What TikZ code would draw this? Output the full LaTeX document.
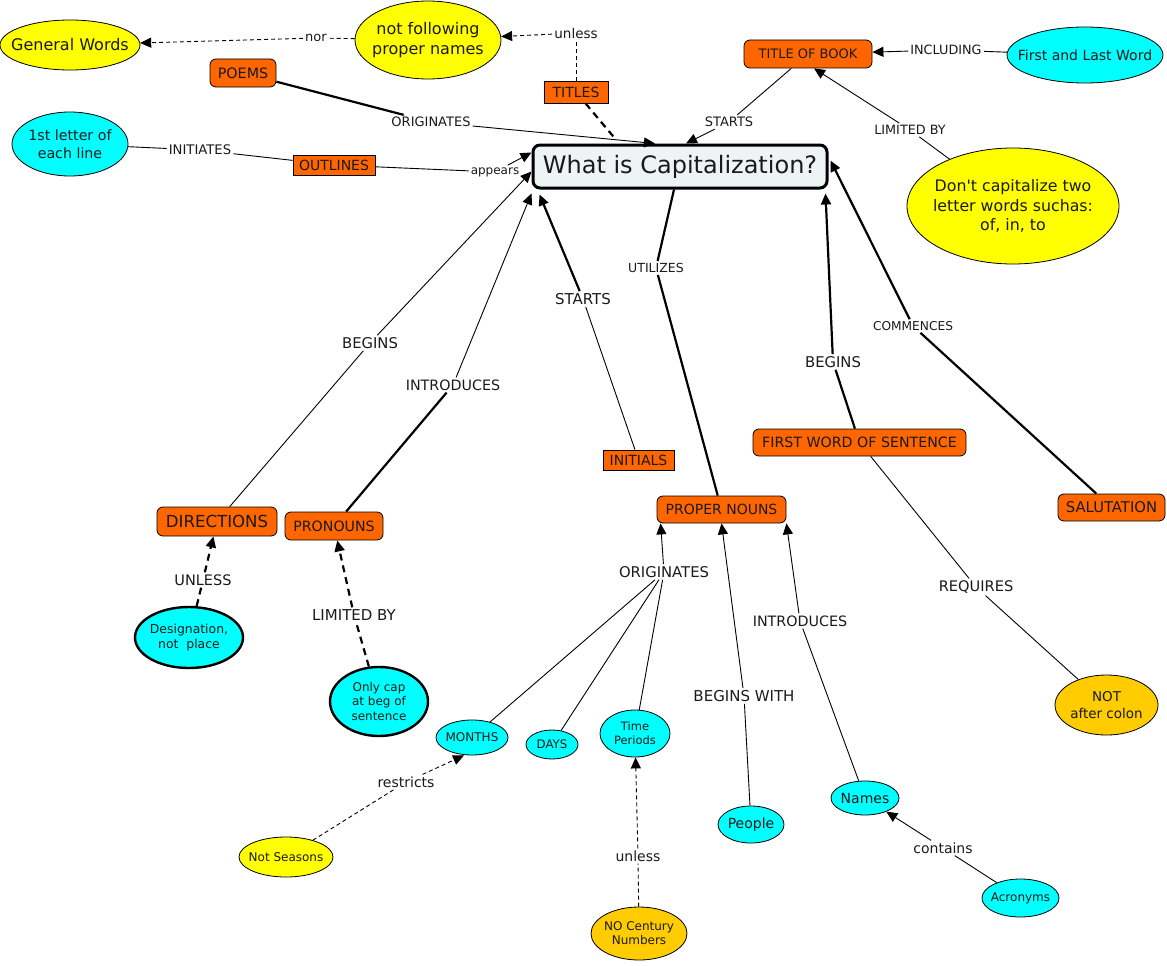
\documentclass[tikz,border=0pt]{standalone}
\usepackage{fontspec}
\setmainfont{DejaVu Sans}
\usetikzlibrary{shapes.geometric,arrows.meta,calc}
\definecolor{orng}{HTML}{FF6600}
\definecolor{cyn}{HTML}{00FFFF}
\definecolor{yel}{HTML}{FFFF00}
\definecolor{gld}{HTML}{FFCC00}
\definecolor{mainfill}{HTML}{EEF3F6}
\definecolor{txt}{HTML}{1A1A1A}
\newcommand{\fsz}[2]{\fontsize{#1pt}{#2pt}\selectfont}
\tikzset{
  base/.style={draw=black, line width=0.8pt, inner sep=0pt, text=txt, align=center},
  orbox/.style={base, fill=orng, rounded corners=6pt},
  orsq/.style={base, fill=orng},
  ellbase/.style={base, ellipse, inner xsep=-30pt, inner ysep=-30pt},
  cyell/.style={ellbase, fill=cyn},
  yell/.style={ellbase, fill=yel},
  gell/.style={ellbase, fill=gld},
  bord/.style={line width=2.4pt},
  mainbox/.style={draw=black, line width=3pt, fill=mainfill, rounded corners=7pt, inner sep=0pt, text=txt},
  lbl/.style={inner sep=2pt, text=txt},
  lnthin/.style={line width=0.9pt},
  lnthick/.style={line width=2.2pt},
  dsh/.style={line width=0.9pt, dash pattern=on 4pt off 3pt},
  dshthick/.style={line width=2.2pt, dash pattern=on 7pt off 5pt},
  arw/.style={-{Triangle[length=11pt,width=10pt]}}
}
\begin{document}
\begin{tikzpicture}[x=1pt,y=-1pt]
\path[use as bounding box] (0,0) rectangle (1167,966);
% concepts
\node[yell, minimum width=140, minimum height=50, font=\fsz{16}{19}] (gw) at (70,45) {General Words};
\node[yell, minimum width=146, minimum height=78, font=\fsz{16}{20}] (nfp) at (428,40) {not following\\proper names};
\node[orbox, minimum width=66, minimum height=28, font=\fsz{14.3}{16}] (poems) at (243,73) {POEMS};
\node[orsq, minimum width=64, minimum height=22, font=\fsz{14}{16}] (titles) at (576,92) {TITLES};
\node[orbox, minimum width=128, minimum height=28, font=\fsz{13}{16}] (tob) at (808,54) {TITLE OF BOOK};
\node[cyell, minimum width=156, minimum height=56, font=\fsz{14}{16}] (flw) at (1085,55) {First and Last Word};
\node[cyell, minimum width=116, minimum height=64, font=\fsz{14.2}{18}] (fle) at (70,144) {1st letter of\\each line};
\node[orsq, minimum width=82, minimum height=20, font=\fsz{14}{16}] (outl) at (334,165) {OUTLINES};
\node[mainbox, minimum width=294, minimum height=43, font=\fsz{24}{28}] (main) at (680,166.5) {What is Capitalization?};
\node[yell, minimum width=212, minimum height=116, font=\fsz{15.8}{19.5}] (dont) at (1013,206) {Don\textquotesingle t capitalize two\\letter words suchas:\\of, in, to};
\node[orbox, minimum width=120, minimum height=29, font=\fsz{16.6}{18}] (dir) at (217,521.5) {DIRECTIONS};
\node[orbox, minimum width=98, minimum height=28, font=\fsz{14.2}{16}] (pron) at (334,526) {PRONOUNS};
\node[orsq, minimum width=71, minimum height=20, font=\fsz{14}{16}] (init) at (638.5,460) {INITIALS};
\node[orbox, minimum width=129, minimum height=27, font=\fsz{14}{16}] (pn) at (721.5,509.5) {PROPER NOUNS};
\node[orbox, minimum width=213, minimum height=27, font=\fsz{14.2}{16}] (fws) at (859.5,442.5) {FIRST WORD OF SENTENCE};
\node[orbox, minimum width=107, minimum height=27, font=\fsz{14.8}{16}] (sal) at (1111.5,507.5) {SALUTATION};
\node[cyell, bord, minimum width=108, minimum height=61, font=\fsz{12.4}{15}] (desig) at (189,637.5) {Designation,\\not\ \ place};
\node[cyell, bord, minimum width=98, minimum height=69, font=\fsz{12}{14.5}] (only) at (379,701.5) {Only cap\\at beg of\\sentence};
\node[cyell, minimum width=72, minimum height=35, font=\fsz{12}{13}] (months) at (472,737.5) {MONTHS};
\node[cyell, minimum width=52, minimum height=29, font=\fsz{11.8}{13}] (days) at (552,744.5) {DAYS};
\node[cyell, minimum width=70, minimum height=47, font=\fsz{11.5}{14}] (tp) at (635,733.5) {Time\\Periods};
\node[cyell, minimum width=66, minimum height=37, font=\fsz{14}{16}] (people) at (751,824.5) {People};
\node[cyell, minimum width=68, minimum height=34, font=\fsz{14}{16}] (names) at (865,798) {Names};
\node[cyell, minimum width=77, minimum height=38, font=\fsz{12}{13}] (acr) at (1020.5,898) {Acronyms};
\node[yell, minimum width=94, minimum height=40, font=\fsz{12}{13}] (ns) at (286,857) {Not Seasons};
\node[gell, minimum width=96, minimum height=53, font=\fsz{12}{14}] (ncn) at (639,933.5) {NO Century\\Numbers};
\node[gell, minimum width=103, minimum height=60, font=\fsz{13.5}{17}] (nac) at (1106.5,705) {NOT\\after colon};
% linking phrases
\node[lbl, font=\fsz{13}{15}] (lnor) at (316,38) {nor};
\node[lbl, font=\fsz{13.5}{15}] (lunlessa) at (576,33) {unless};
\node[lbl, font=\fsz{12.8}{14}] (lincl) at (946,50) {INCLUDING};
\node[lbl, font=\fsz{13}{14}] (lorigA) at (431,122) {ORIGINATES};
\node[lbl, font=\fsz{13}{14}] (lstartsA) at (729,122) {STARTS};
\node[lbl, font=\fsz{12.8}{14}] (llimA) at (910,130) {LIMITED BY};
\node[lbl, font=\fsz{13.2}{14}] (linit) at (200,150) {INITIATES};
\node[lbl, font=\fsz{12}{14}] (lapp) at (495,172) {appears};
\node[lbl, font=\fsz{14.8}{16}] (lbeginsA) at (370,343) {BEGINS};
\node[lbl, font=\fsz{14.3}{16}] (lintroA) at (453,385) {INTRODUCES};
\node[lbl, font=\fsz{15}{16}] (lstartsB) at (583,299) {STARTS};
\node[lbl, font=\fsz{12.5}{14}] (lutil) at (656,268) {UTILIZES};
\node[lbl, font=\fsz{12.2}{14}] (lcomm) at (913,326) {COMMENCES};
\node[lbl, font=\fsz{14.8}{16}] (lbeginsB) at (833,362) {BEGINS};
\node[lbl, font=\fsz{14.5}{16}] (lunlessb) at (203,580) {UNLESS};
\node[lbl, font=\fsz{15}{16}] (llimB) at (354,615) {LIMITED BY};
\node[lbl, font=\fsz{14.8}{16}] (lorigB) at (664,572) {ORIGINATES};
\node[lbl, font=\fsz{14.3}{16}] (lintroB) at (800,621) {INTRODUCES};
\node[lbl, font=\fsz{15}{16}] (lbw) at (744,696) {BEGINS WITH};
\node[lbl, font=\fsz{14.6}{16}] (lreq) at (976,587) {REQUIRES};
\node[lbl, font=\fsz{14}{16}] (lrestr) at (406,782) {restricts};
\node[lbl, font=\fsz{14}{16}] (lunlessc) at (638,856) {unless};
\node[lbl, font=\fsz{14}{16}] (lcont) at (943,848) {contains};
% anchor points on the main concept
\coordinate (mOrig) at ($(main.north)+(-25,0)$);
\coordinate (mStartsA) at ($(main.north)+(6,0)$);
\coordinate (mTitles) at ($(main.north)+(-65,-5)$);
\coordinate (mApp) at ($(main.west)+(0,-14)$);
\coordinate (mBeginsA) at ($(main.west)+(0,5)$);
\coordinate (mIntro) at ($(main.south west)+(0,4)$);
\coordinate (mStartsB) at ($(main.south west)+(8,5)$);
\coordinate (mUtil) at ($(main.south)+(-6,0)$);
\coordinate (mBeginsB) at ($(main.south east)+(-3,4)$);
\coordinate (mComm) at ($(main.east)+(2,-6)$);
\coordinate (tobLim) at ($(tob.south)+(6,0)$);
\coordinate (pnOrig) at ($(pn.south west)+(4,0)$);
\coordinate (monRes) at ($(months.south)+(-8,0)$);
% connectors
\draw[dsh] (nfp) -- (lnor);
\draw[dsh, arw] (lnor) -- (gw);
\draw[dsh] (titles) -- (lunlessa);
\draw[dsh, arw] (lunlessa) -- (nfp);
\draw[dshthick] (titles) -- (mTitles);
\draw[lnthick] (poems) -- (lorigA);
\draw[lnthin, arw] (lorigA) -- (mOrig);
\draw[lnthin] (tob) -- (lstartsA);
\draw[lnthin, arw] (lstartsA) -- (mStartsA);
\draw[lnthin] (flw) -- (lincl);
\draw[lnthin, arw] (lincl) -- (tob);
\draw[lnthin] (dont) -- (llimA);
\draw[lnthin, arw] (llimA) -- (tobLim);
\draw[lnthin] (fle) -- (linit);
\draw[lnthin] (linit) -- (outl);
\draw[lnthin] (outl) -- (lapp);
\draw[lnthin, arw] (lapp) -- (mApp);
\draw[lnthin] (dir) -- (lbeginsA);
\draw[lnthin, arw] (lbeginsA) -- (mBeginsA);
\draw[lnthick] (pron) -- (lintroA);
\draw[lnthin, arw] (lintroA) -- (mIntro);
\draw[lnthin] (init) -- (lstartsB);
\draw[lnthick, arw] (lstartsB) -- (mStartsB);
\draw[lnthick] (mUtil) -- (lutil);
\draw[lnthick] (lutil) -- (pn);
\draw[lnthick] (fws) -- (lbeginsB);
\draw[lnthick, arw] (lbeginsB) -- (mBeginsB);
\draw[lnthick] (sal) -- (lcomm);
\draw[lnthick, arw] (lcomm) -- (mComm);
\draw[lnthin] (fws) -- (lreq);
\draw[lnthin] (lreq) -- (nac);
\draw[dshthick] (desig) -- (lunlessb);
\draw[dshthick, arw] (lunlessb) -- (dir);
\draw[dshthick] (only) -- (llimB);
\draw[dshthick, arw] (llimB) -- (pron);
\draw[lnthin] (months) -- (lorigB);
\draw[lnthin] (days) -- (lorigB);
\draw[lnthin] (tp) -- (lorigB);
\draw[lnthin, arw] (lorigB) -- (pnOrig);
\draw[lnthin] (people) -- (lbw);
\draw[lnthin, arw] (lbw) -- (pn.south);
\draw[lnthin] (names) -- (lintroB);
\draw[lnthin, arw] (lintroB) -- (pn.south east);
\draw[lnthin] (acr) -- (lcont);
\draw[lnthin, arw] (lcont) -- (names);
\draw[dsh] (ns) -- (lrestr);
\draw[dsh, arw] (lrestr) -- (monRes);
\draw[dsh] (ncn) -- (lunlessc);
\draw[dsh, arw] (lunlessc) -- (tp);
\end{tikzpicture}
\end{document}
